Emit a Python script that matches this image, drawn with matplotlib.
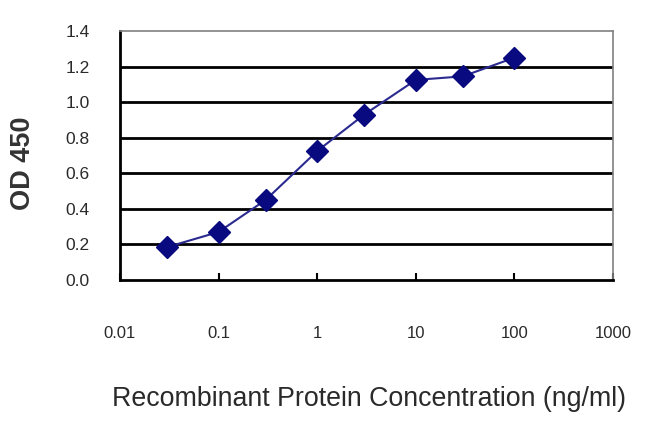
#!/usr/bin/env python3
"""
OD 450 vs recombinant protein concentration (log scale)
"""

import matplotlib
matplotlib.use("Agg")
import matplotlib.pyplot as plt

# concentration in ng/ml and measured OD
conc = [0.03, 0.1, 0.3, 1, 3, 10, 30, 100]
od450 = [0.185, 0.27, 0.45, 0.725, 0.93, 1.125, 1.145, 1.25]

xticks = [0.01, 0.1, 1, 10, 100, 1000]
xtick_labels = ["0.01", "0.1", "1", "10", "100", "1000"]
yticks = [0.0, 0.2, 0.4, 0.6, 0.8, 1.0, 1.2, 1.4]
ytick_labels = ["0.0", "0.2", "0.4", "0.6", "0.8", "1.0", "1.2", "1.4"]

plt.rcParams['font.family'] = ['Liberation Sans', 'DejaVu Sans']
txt = '#2a2a2a'
navy = '#0a0a80'

fig = plt.figure(figsize=(6.5, 4.33), dpi=100)
ax = fig.add_axes([0.1846, 0.3533, 0.7584, 0.5751])

ax.set_xscale('log')
ax.set_xlim(0.01, 1000)
ax.set_ylim(0, 1.4)

# horizontal grid lines
for y in yticks[1:-1]:
    ax.axhline(y, color='black', lw=2.0, zorder=1)

ax.plot(conc, od450, color='#2a2a90', lw=1.5, zorder=2)
ax.plot(conc, od450, ls='none', marker='D', ms=11,
        mfc=navy, mec=navy, zorder=3)

ax.set_xticks(xticks)
ax.set_xticklabels(xtick_labels, fontsize=12, color=txt)
ax.xaxis.set_minor_locator(matplotlib.ticker.NullLocator())
ax.tick_params(axis='x', direction='in', length=5, width=1.5, pad=33,
               color='black')
ax.set_yticks(yticks)
ax.set_yticklabels(ytick_labels, fontsize=12.5, color=txt)
ax.tick_params(axis='y', length=0, pad=22)

for side in ('left', 'bottom'):
    ax.spines[side].set_linewidth(2.0)
    ax.spines[side].set_color('black')
for side in ('top', 'right'):
    ax.spines[side].set_linewidth(1.2)
    ax.spines[side].set_color('#808080')

fig.text(0.568, 0.078, 'Recombinant Protein Concentration (ng/ml)',
         ha='center', va='center', fontsize=19.3, color=txt)
fig.text(0.036, 0.624, 'OD 450', rotation=90, ha='center', va='center',
         fontsize=19.5, fontweight='bold', color='#333333')

fig.savefig('out.png', dpi=100)
